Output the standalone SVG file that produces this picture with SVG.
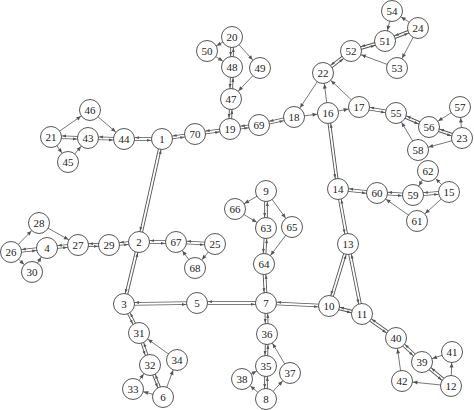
<svg xmlns="http://www.w3.org/2000/svg" xmlns:xlink="http://www.w3.org/1999/xlink" width="474" height="410" viewBox="0 0 474 410">
<style>
.nd circle{fill:#fff;stroke:#444;stroke-width:0.9}
.nd text{font-family:'Liberation Serif','Times New Roman',serif;font-size:11px;fill:#222;text-anchor:middle}
.sg path{fill:none;stroke:#555;stroke-width:0.8;marker-end:url(#se)}
</style>
<defs>
<marker id="se" markerUnits="userSpaceOnUse" orient="auto" refX="0" refY="0" markerWidth="1" markerHeight="1" overflow="visible"><path d="M-11,0 L-15.5,-2 L-15.5,2 Z" fill="#555"/></marker>
<marker id="de" markerUnits="userSpaceOnUse" orient="auto-start-reverse" refX="0" refY="0" markerWidth="1" markerHeight="1" overflow="visible"><path d="M-11,1.35 L-15,-0.1 L-15,2.8 Z" fill="#555"/></marker>
<g id="D">
<path d="M162 139 L124 139"/><path d="M124 139 L88 138"/><path d="M88 138 L51 137"/>
<path d="M162 139 L195 134"/><path d="M195 134 L230 129"/><path d="M230 129 L259 125"/><path d="M259 125 L294 117"/>
<path d="M230 129 L231 99"/><path d="M231 99 L232 67"/><path d="M232 67 L232 37"/>
<path d="M323 73 L351 51"/><path d="M351 51 L385 41"/><path d="M385 41 L418 28"/>
<path d="M359 107 L396 113"/><path d="M396 113 L429 127"/><path d="M429 127 L462 138"/>
<path d="M328 113 L338 189"/><path d="M338 189 L377 193"/><path d="M377 193 L413 195"/><path d="M413 195 L449 192"/>
<path d="M338 189 L348 244"/><path d="M348 244 L329 306"/><path d="M348 244 L362 314"/><path d="M329 306 L362 314"/>
<path d="M266 303 L329 306"/><path d="M362 314 L396 338"/><path d="M396 338 L422 362"/><path d="M422 362 L451 386"/>
<path d="M162 139 L139 242"/><path d="M139 242 L109 245"/><path d="M109 245 L78 245"/><path d="M78 245 L47 248"/><path d="M47 248 L11 252"/>
<path d="M139 242 L176 242"/><path d="M176 242 L215 244"/>
<path d="M139 242 L124 304"/><path d="M124 304 L197 303"/><path d="M197 303 L266 303"/>
<path d="M266 303 L264 264"/><path d="M264 264 L266 228"/><path d="M266 228 L266 191"/>
<path d="M266 303 L267 334"/><path d="M267 334 L266 366"/><path d="M266 366 L266 399"/>
<path d="M124 304 L139 333"/><path d="M139 333 L150 365"/><path d="M150 365 L163 397"/>
</g>
</defs>
<g id="connectors">
<use xlink:href="#D" href="#D" fill="none" stroke="#555" stroke-width="3.6"/>
<use xlink:href="#D" href="#D" fill="none" stroke="#fff" stroke-width="1.8"/>
<use xlink:href="#D" href="#D" fill="none" stroke="none" marker-start="url(#de)" marker-end="url(#de)"/>
<g class="sg">
<path d="M51 137 L90 110"/><path d="M90 110 L124 139"/><path d="M51 137 L68 162"/><path d="M68 162 L88 138"/>
<path d="M232 37 L207 51"/><path d="M207 51 L232 67"/><path d="M232 37 L260 68"/><path d="M260 68 L231 99"/>
<path d="M323 73 L294 117"/><path d="M328 113 L323 73"/><path d="M359 107 L323 73"/><path d="M294 117 L328 113"/><path d="M328 113 L359 107"/>
<path d="M418 28 L392 11"/><path d="M392 11 L385 41"/><path d="M418 28 L397 68"/><path d="M397 68 L351 51"/>
<path d="M460 107 L429 127"/><path d="M462 138 L460 107"/><path d="M462 138 L418 150"/><path d="M418 150 L396 113"/>
<path d="M449 192 L428 171"/><path d="M428 171 L413 195"/><path d="M449 192 L417 221"/><path d="M417 221 L377 193"/>
<path d="M451 386 L452 352"/><path d="M452 352 L422 362"/><path d="M451 386 L402 381"/><path d="M402 381 L396 338"/>
<path d="M11 252 L39 223"/><path d="M39 223 L78 245"/><path d="M11 252 L32 272"/><path d="M32 272 L47 248"/>
<path d="M215 244 L195 268"/><path d="M195 268 L176 242"/>
<path d="M266 191 L235 209"/><path d="M235 209 L266 228"/><path d="M266 191 L292 227"/><path d="M292 227 L264 264"/>
<path d="M266 399 L242 379"/><path d="M242 379 L266 366"/><path d="M266 399 L290 373"/><path d="M290 373 L267 334"/>
<path d="M163 397 L133 389"/><path d="M133 389 L150 365"/><path d="M163 397 L177 360"/><path d="M177 360 L139 333"/>
</g>
</g>
<g id="nodes" font-family="Liberation Serif, serif">
<g id="n1" class="nd"><circle cx="162" cy="139" r="10.5"/><text x="162" y="142.8">1</text></g>
<g id="n2" class="nd"><circle cx="139" cy="242" r="10.5"/><text x="139" y="245.8">2</text></g>
<g id="n3" class="nd"><circle cx="124" cy="304" r="10.5"/><text x="124" y="307.8">3</text></g>
<g id="n4" class="nd"><circle cx="47" cy="248" r="10.5"/><text x="47" y="251.8">4</text></g>
<g id="n5" class="nd"><circle cx="197" cy="303" r="10.5"/><text x="197" y="306.8">5</text></g>
<g id="n6" class="nd"><circle cx="163" cy="397" r="10.5"/><text x="163" y="400.8">6</text></g>
<g id="n7" class="nd"><circle cx="266" cy="303" r="10.5"/><text x="266" y="306.8">7</text></g>
<g id="n8" class="nd"><circle cx="266" cy="399" r="10.5"/><text x="266" y="402.8">8</text></g>
<g id="n9" class="nd"><circle cx="266" cy="191" r="10.5"/><text x="266" y="194.8">9</text></g>
<g id="n10" class="nd"><circle cx="329" cy="306" r="10.5"/><text x="329" y="309.8">10</text></g>
<g id="n11" class="nd"><circle cx="362" cy="314" r="10.5"/><text x="362" y="317.8">11</text></g>
<g id="n12" class="nd"><circle cx="451" cy="386" r="10.5"/><text x="451" y="389.8">12</text></g>
<g id="n13" class="nd"><circle cx="348" cy="244" r="10.5"/><text x="348" y="247.8">13</text></g>
<g id="n14" class="nd"><circle cx="338" cy="189" r="10.5"/><text x="338" y="192.8">14</text></g>
<g id="n15" class="nd"><circle cx="449" cy="192" r="10.5"/><text x="449" y="195.8">15</text></g>
<g id="n16" class="nd"><circle cx="328" cy="113" r="10.5"/><text x="328" y="116.8">16</text></g>
<g id="n17" class="nd"><circle cx="359" cy="107" r="10.5"/><text x="359" y="110.8">17</text></g>
<g id="n18" class="nd"><circle cx="294" cy="117" r="10.5"/><text x="294" y="120.8">18</text></g>
<g id="n19" class="nd"><circle cx="230" cy="129" r="10.5"/><text x="230" y="132.8">19</text></g>
<g id="n20" class="nd"><circle cx="232" cy="37" r="10.5"/><text x="232" y="40.8">20</text></g>
<g id="n21" class="nd"><circle cx="51" cy="137" r="10.5"/><text x="51" y="140.8">21</text></g>
<g id="n22" class="nd"><circle cx="323" cy="73" r="10.5"/><text x="323" y="76.8">22</text></g>
<g id="n23" class="nd"><circle cx="462" cy="138" r="10.5"/><text x="462" y="141.8">23</text></g>
<g id="n24" class="nd"><circle cx="418" cy="28" r="10.5"/><text x="418" y="31.8">24</text></g>
<g id="n25" class="nd"><circle cx="215" cy="244" r="10.5"/><text x="215" y="247.8">25</text></g>
<g id="n26" class="nd"><circle cx="11" cy="252" r="10.5"/><text x="11" y="255.8">26</text></g>
<g id="n27" class="nd"><circle cx="78" cy="245" r="10.5"/><text x="78" y="248.8">27</text></g>
<g id="n28" class="nd"><circle cx="39" cy="223" r="10.5"/><text x="39" y="226.8">28</text></g>
<g id="n29" class="nd"><circle cx="109" cy="245" r="10.5"/><text x="109" y="248.8">29</text></g>
<g id="n30" class="nd"><circle cx="32" cy="272" r="10.5"/><text x="32" y="275.8">30</text></g>
<g id="n31" class="nd"><circle cx="139" cy="333" r="10.5"/><text x="139" y="336.8">31</text></g>
<g id="n32" class="nd"><circle cx="150" cy="365" r="10.5"/><text x="150" y="368.8">32</text></g>
<g id="n33" class="nd"><circle cx="133" cy="389" r="10.5"/><text x="133" y="392.8">33</text></g>
<g id="n34" class="nd"><circle cx="177" cy="360" r="10.5"/><text x="177" y="363.8">34</text></g>
<g id="n35" class="nd"><circle cx="266" cy="366" r="10.5"/><text x="266" y="369.8">35</text></g>
<g id="n36" class="nd"><circle cx="267" cy="334" r="10.5"/><text x="267" y="337.8">36</text></g>
<g id="n37" class="nd"><circle cx="290" cy="373" r="10.5"/><text x="290" y="376.8">37</text></g>
<g id="n38" class="nd"><circle cx="242" cy="379" r="10.5"/><text x="242" y="382.8">38</text></g>
<g id="n39" class="nd"><circle cx="422" cy="362" r="10.5"/><text x="422" y="365.8">39</text></g>
<g id="n40" class="nd"><circle cx="396" cy="338" r="10.5"/><text x="396" y="341.8">40</text></g>
<g id="n41" class="nd"><circle cx="452" cy="352" r="10.5"/><text x="452" y="355.8">41</text></g>
<g id="n42" class="nd"><circle cx="402" cy="381" r="10.5"/><text x="402" y="384.8">42</text></g>
<g id="n43" class="nd"><circle cx="88" cy="138" r="10.5"/><text x="88" y="141.8">43</text></g>
<g id="n44" class="nd"><circle cx="124" cy="139" r="10.5"/><text x="124" y="142.8">44</text></g>
<g id="n45" class="nd"><circle cx="68" cy="162" r="10.5"/><text x="68" y="165.8">45</text></g>
<g id="n46" class="nd"><circle cx="90" cy="110" r="10.5"/><text x="90" y="113.8">46</text></g>
<g id="n47" class="nd"><circle cx="231" cy="99" r="10.5"/><text x="231" y="102.8">47</text></g>
<g id="n48" class="nd"><circle cx="232" cy="67" r="10.5"/><text x="232" y="70.8">48</text></g>
<g id="n49" class="nd"><circle cx="260" cy="68" r="10.5"/><text x="260" y="71.8">49</text></g>
<g id="n50" class="nd"><circle cx="207" cy="51" r="10.5"/><text x="207" y="54.8">50</text></g>
<g id="n51" class="nd"><circle cx="385" cy="41" r="10.5"/><text x="385" y="44.8">51</text></g>
<g id="n52" class="nd"><circle cx="351" cy="51" r="10.5"/><text x="351" y="54.8">52</text></g>
<g id="n53" class="nd"><circle cx="397" cy="68" r="10.5"/><text x="397" y="71.8">53</text></g>
<g id="n54" class="nd"><circle cx="392" cy="11" r="10.5"/><text x="392" y="14.8">54</text></g>
<g id="n55" class="nd"><circle cx="396" cy="113" r="10.5"/><text x="396" y="116.8">55</text></g>
<g id="n56" class="nd"><circle cx="429" cy="127" r="10.5"/><text x="429" y="130.8">56</text></g>
<g id="n57" class="nd"><circle cx="460" cy="107" r="10.5"/><text x="460" y="110.8">57</text></g>
<g id="n58" class="nd"><circle cx="418" cy="150" r="10.5"/><text x="418" y="153.8">58</text></g>
<g id="n59" class="nd"><circle cx="413" cy="195" r="10.5"/><text x="413" y="198.8">59</text></g>
<g id="n60" class="nd"><circle cx="377" cy="193" r="10.5"/><text x="377" y="196.8">60</text></g>
<g id="n61" class="nd"><circle cx="417" cy="221" r="10.5"/><text x="417" y="224.8">61</text></g>
<g id="n62" class="nd"><circle cx="428" cy="171" r="10.5"/><text x="428" y="174.8">62</text></g>
<g id="n63" class="nd"><circle cx="266" cy="228" r="10.5"/><text x="266" y="231.8">63</text></g>
<g id="n64" class="nd"><circle cx="264" cy="264" r="10.5"/><text x="264" y="267.8">64</text></g>
<g id="n65" class="nd"><circle cx="292" cy="227" r="10.5"/><text x="292" y="230.8">65</text></g>
<g id="n66" class="nd"><circle cx="235" cy="209" r="10.5"/><text x="235" y="212.8">66</text></g>
<g id="n67" class="nd"><circle cx="176" cy="242" r="10.5"/><text x="176" y="245.8">67</text></g>
<g id="n68" class="nd"><circle cx="195" cy="268" r="10.5"/><text x="195" y="271.8">68</text></g>
<g id="n69" class="nd"><circle cx="259" cy="125" r="10.5"/><text x="259" y="128.8">69</text></g>
<g id="n70" class="nd"><circle cx="195" cy="134" r="10.5"/><text x="195" y="137.8">70</text></g>
</g>
</svg>
